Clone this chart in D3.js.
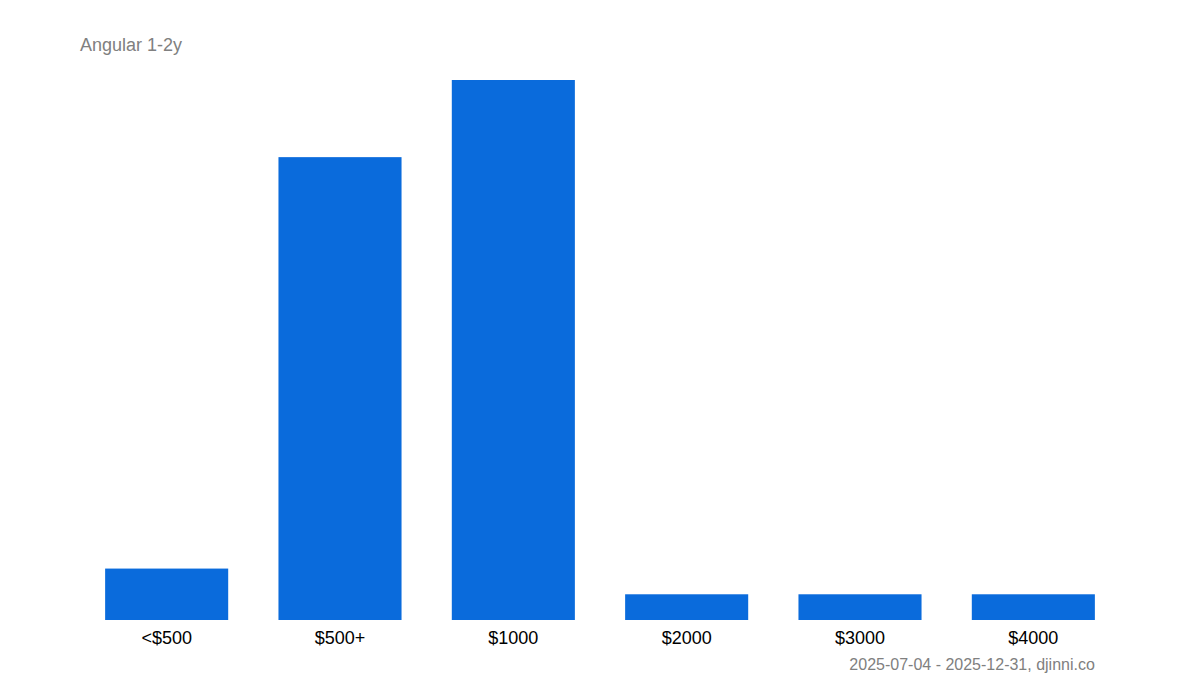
<!DOCTYPE html>
<html>
<head>
<meta charset="utf-8">
<script src="https://cdn.jsdelivr.net/npm/d3@7"></script>
<style>
  body { margin: 0; background: #fff; }
  text { font-family: "Liberation Sans", Arial, sans-serif; }
</style>
</head>
<body>
<svg id="chart"></svg>
<script>
const width = 1200;
const height = 700;
const left = 80;
const right = 1120;
const top_y = 80;
const base_y = 620;

const categories = ['<$500', '$500+', '$1000', '$2000', '$3000', '$4000'];
const counts = [2, 18, 21, 1, 1, 1];
const title = 'Angular 1-2y';
const footer = '2025-07-04 - 2025-12-31, djinni.co';

const svg = d3.select('#chart')
  .attr('width', width)
  .attr('height', height);

const x = d3.scaleBand()
  .domain(categories)
  .range([left, right])
  .paddingInner(0.29)
  .paddingOuter(0.145);

const y = d3.scaleLinear()
  .domain([0, d3.max(counts)])
  .range([base_y, top_y]);

svg.append('g')
  .selectAll('rect')
  .data(categories)
  .enter()
  .append('rect')
  .attr('x', d => x(d))
  .attr('y', (d, i) => y(counts[i]))
  .attr('width', x.bandwidth())
  .attr('height', (d, i) => base_y - y(counts[i]))
  .attr('fill', '#0a6bdc');

// x axis: labels only, no line or ticks
const xAxis = svg.append('g')
  .attr('transform', `translate(0, ${base_y})`)
  .call(d3.axisBottom(x).tickSize(0).tickPadding(11));
xAxis.select('.domain').remove();
xAxis.selectAll('text')
  .attr('font-size', 18)
  .attr('font-family', '"Liberation Sans", Arial, sans-serif')
  .attr('fill', '#000');

svg.append('text')
  .attr('x', left)
  .attr('y', 51)
  .attr('font-size', 18)
  .attr('fill', '#808080')
  .text(title);

svg.append('text')
  .attr('x', x(categories[categories.length - 1]) + x.bandwidth())
  .attr('y', 670)
  .attr('text-anchor', 'end')
  .attr('font-size', 16)
  .attr('fill', '#808080')
  .text(footer);
</script>
</body>
</html>
